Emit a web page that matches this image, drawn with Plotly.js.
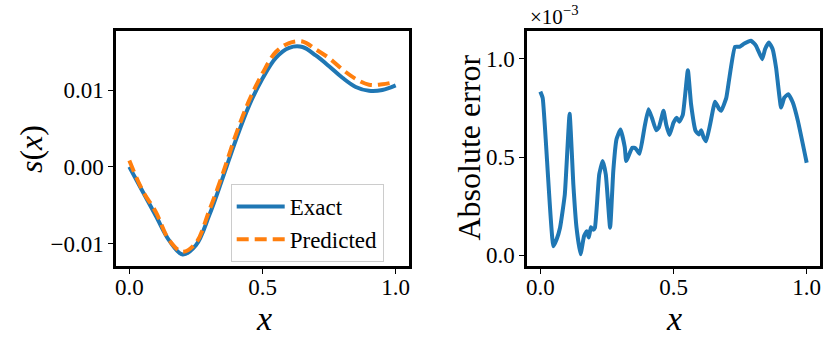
<!DOCTYPE html>
<html>
<head>
<meta charset="utf-8">
<script src="https://cdn.plot.ly/plotly-3.0.1.min.js"></script>
<style>
  svg text, svg tspan { font-family: 'Liberation Serif', serif !important; }
</style>
</head>
<body style="margin:0">
<div id="chart" style="width:831px;height:341px"></div>
<script>
// ---- Data ----
// Left panel: s(x), exact vs predicted
const sX = [0, 0.05, 0.1, 0.15, 0.2, 0.25, 0.3, 0.35, 0.4, 0.45, 0.5,
            0.55, 0.6, 0.65, 0.7, 0.75, 0.8, 0.85, 0.9, 0.95, 1.0];
const sExact = [0, -0.0032, -0.0064, -0.0096, -0.0114, -0.0102, -0.0063, -0.0015,
                0.0035, 0.0080, 0.0115, 0.0142, 0.0155, 0.0156, 0.0145, 0.0131,
                0.0116, 0.0104, 0.0099, 0.0100, 0.0106];
const sPredicted = [0.00083, -0.0031, -0.0059, -0.00955, -0.01105, -0.0099, -0.0057,
                    -0.00097, 0.0042, 0.00865, 0.01218, 0.01495, 0.01612, 0.01632,
                    0.0153, 0.01415, 0.01268, 0.01145, 0.0107, 0.01075, 0.01107];

// Right panel: absolute error (values in units of 1e-3)
const errX = [0, 0.009, 0.049, 0.061, 0.074, 0.092, 0.110, 0.124, 0.136, 0.151,
              0.164, 0.174, 0.182, 0.190, 0.199, 0.205, 0.221, 0.234, 0.246, 0.262,
              0.274, 0.286, 0.301, 0.317, 0.3225, 0.345, 0.357, 0.3725, 0.391, 0.406,
              0.419, 0.435, 0.445, 0.4625, 0.4725, 0.485, 0.50, 0.512, 0.522, 0.535,
              0.554, 0.566, 0.583, 0.595, 0.604, 0.613, 0.6225, 0.6375, 0.656, 0.672,
              0.679, 0.698, 0.710, 0.731, 0.748, 0.766, 0.791, 0.810, 0.833, 0.844,
              0.858, 0.872, 0.885, 0.904, 0.916, 0.931, 0.948, 0.967, 1.0];
const errE3 = [0.833, 0.80, 0.046, 0.08, 0.14, 0.31, 0.72, 0.36, 0.14, 0.005,
               0.097, 0.122, 0.09, 0.143, 0.13, 0.14, 0.41, 0.48, 0.41, 0.14,
               0.43, 0.59, 0.64, 0.55, 0.48, 0.547, 0.545, 0.517, 0.65, 0.743,
               0.70, 0.636, 0.65, 0.735, 0.666, 0.612, 0.675, 0.70, 0.68, 0.715,
               0.942, 0.768, 0.633, 0.615, 0.636, 0.60, 0.58, 0.666, 0.782, 0.743,
               0.735, 0.80, 0.905, 1.061, 1.061, 1.078, 1.092, 1.066, 0.998, 1.05,
               1.083, 1.05, 0.956, 0.752, 0.802, 0.82, 0.777, 0.684, 0.471];

const xTicks = [0, 0.5, 1.0];
const sTicks = [-0.01, 0, 0.01];
const errTicks = [0, 0.5, 1.0];

// ---- Styling ----
const W = 831, H = 341;
const BLUE = '#1f77b4', ORANGE = '#ff7f0e';

function serif(size) { return { family: 'Liberation Serif', size: size, color: 'black' }; }

const traces = [
  { x: sX, y: sExact, name: 'Exact', type: 'scatter', mode: 'lines',
    line: { color: BLUE, width: 4, shape: 'spline', smoothing: 1 },
    xaxis: 'x', yaxis: 'y' },
  { x: sX, y: sPredicted, name: 'Predicted', type: 'scatter', mode: 'lines',
    line: { color: ORANGE, width: 4, dash: '12px,6px', shape: 'spline', smoothing: 1 },
    xaxis: 'x', yaxis: 'y' },
  { x: errX, y: errE3, name: 'Absolute error', type: 'scatter', mode: 'lines',
    line: { color: BLUE, width: 4, shape: 'spline', smoothing: 0.4 }, showlegend: false,
    xaxis: 'x2', yaxis: 'y2' }
];

function axis(extra) {
  return Object.assign({
    showline: true, mirror: true, linecolor: 'black', linewidth: 2.5,
    ticks: 'outside', ticklen: 5, tickwidth: 1.2, tickcolor: 'black',
    showgrid: false, zeroline: false,
    tickfont: serif(23)
  }, extra);
}

const yDom = [1 - 266 / H, 1 - 30.5 / H];

const layout = {
  width: W, height: H,
  margin: { l: 0, r: 0, t: 0, b: 0 },
  paper_bgcolor: 'white', plot_bgcolor: 'white',
  font: serif(23),
  showlegend: true,
  xaxis: axis({ domain: [116 / W, 409 / W], range: [-0.05, 1.05],
    tickvals: xTicks, tickformat: '.1f', anchor: 'y', ticklabelstandoff: -6 }),
  yaxis: axis({ domain: yDom, range: [-0.0129, 0.01775],
    tickvals: sTicks, tickformat: '.2f', anchor: 'x' }),
  xaxis2: axis({ domain: [527 / W, 820 / W], range: [-0.05, 1.05],
    tickvals: xTicks, tickformat: '.1f', anchor: 'y2', ticklabelstandoff: -6 }),
  yaxis2: axis({ domain: yDom, range: [-0.0546, 1.144],
    tickvals: errTicks, tickformat: '.1f', anchor: 'x2' }),
  legend: {
    x: 230.7 / W, y: 1 - 184 / H, xanchor: 'left', yanchor: 'top',
    bgcolor: 'rgba(255,255,255,0.8)', bordercolor: '#cccccc', borderwidth: 1,
    font: serif(23), itemwidth: 48
  },
  annotations: [
    { text: '<i>s</i>(<i>x</i>)', xref: 'paper', yref: 'paper',
      x: 31 / W, y: 1 - 149 / H, xanchor: 'center', yanchor: 'middle',
      textangle: -90, showarrow: false, font: serif(32) },
    { text: 'Absolute error', xref: 'paper', yref: 'paper',
      x: 468 / W, y: 1 - 147.5 / H, xanchor: 'center', yanchor: 'middle',
      textangle: -90, showarrow: false, font: serif(32) },
    { text: '<i>x</i>', xref: 'paper', yref: 'paper',
      x: 264 / W, y: 1 - 298 / H, xanchor: 'center', yanchor: 'top',
      showarrow: false, font: serif(34) },
    { text: '<i>x</i>', xref: 'paper', yref: 'paper',
      x: 673.7 / W, y: 1 - 298 / H, xanchor: 'center', yanchor: 'top',
      showarrow: false, font: serif(34) },
    { text: '×10<sup>−3</sup>', xref: 'paper', yref: 'paper',
      x: 528 / W, y: 1 - 31 / H, xanchor: 'left', yanchor: 'bottom',
      showarrow: false, font: serif(21) }
  ]
};

Plotly.newPlot('chart', traces, layout, { displayModeBar: false });
</script>
</body>
</html>
